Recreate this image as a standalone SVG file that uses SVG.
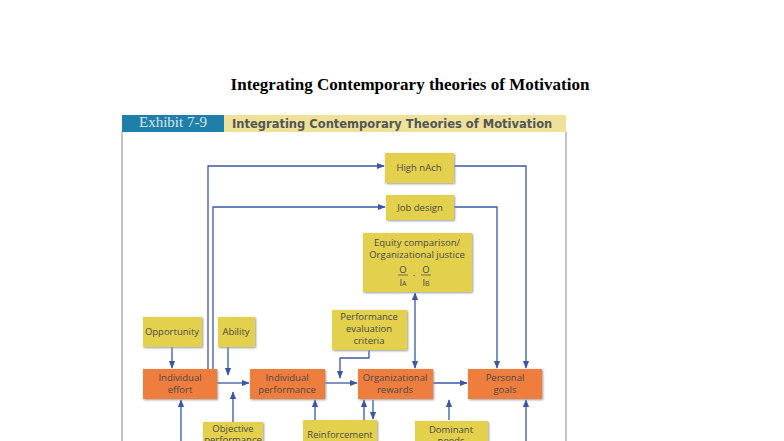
<svg xmlns="http://www.w3.org/2000/svg" width="784" height="441" viewBox="0 0 784 441">
<defs>
<marker id="a" viewBox="0 0 10 10" refX="9" refY="5" markerWidth="6" markerHeight="6" orient="auto-start-reverse"><path d="M0,1 L10,5 L0,9 z" fill="#3a56a6"/></marker>
</defs>
<style>
.y{fill:#e3d04c;filter:drop-shadow(1px 1px 1px #999)}
.o{fill:#ef7d3e;filter:drop-shadow(1px 1px 1px #999)}
.t{font-family:"Open Sans","DejaVu Sans",sans-serif;font-size:9.5px;text-anchor:middle;fill:#4a4a4a}
.c path{fill:none;stroke:#3a56a6;stroke-width:1.3}
</style>
<rect width="784" height="441" fill="#fff"/>
<text x="410" y="90" font-family="Liberation Serif,serif" font-weight="bold" font-size="17" text-anchor="middle">Integrating Contemporary theories of Motivation</text>
<path d="M122,132 V441 M566,132 V441" stroke="#888" stroke-width="1" fill="none"/>
<rect x="122" y="115" width="102" height="17" fill="#1f7fa9"/>
<text x="173" y="127" font-family="Liberation Serif,serif" font-size="15" fill="#d8e8f0" text-anchor="middle">Exhibit 7-9</text>
<rect x="224" y="115" width="342" height="17" fill="#eee29a"/>
<text x="232" y="127.5" font-family="DejaVu Sans,sans-serif" font-weight="bold" font-size="11.5" fill="#555">Integrating Contemporary Theories of Motivation</text>
<g class="c">
<path d="M208,369 V166 H384" marker-end="url(#a)"/>
<path d="M454,166 H526 V368" marker-end="url(#a)"/>
<path d="M213,369 V207 H385" marker-end="url(#a)"/>
<path d="M454,207 H497 V368" marker-end="url(#a)"/>
<path d="M415,293 V368" marker-start="url(#a)" marker-end="url(#a)"/>
<path d="M172,347 V368" marker-end="url(#a)"/>
<path d="M228,347 V375" marker-end="url(#a)"/>
<path d="M217,383 H249" marker-end="url(#a)"/>
<path d="M325,383 H357" marker-end="url(#a)"/>
<path d="M369,350 V358 H340 V378" marker-end="url(#a)"/>
<path d="M433,383 H467" marker-end="url(#a)"/>
<path d="M449,420 V400" marker-end="url(#a)"/>
<path d="M364,420 V400" marker-end="url(#a)"/>
<path d="M373,400 V419" marker-end="url(#a)"/>
<path d="M315,420 V400" marker-end="url(#a)"/>
<path d="M233,422 V392" marker-end="url(#a)"/>
<path d="M181,441 V400" marker-end="url(#a)"/>
<path d="M526,441 V400" marker-end="url(#a)"/>
</g>
<g id="highnach"><rect class="y" x="385" y="153" width="69" height="30"/><text class="t" x="419" y="171">High nAch</text></g>
<g id="jobdesign"><rect class="y" x="386" y="195" width="68" height="25"/><text class="t" x="420" y="211">Job design</text></g>
<g id="equity"><rect class="y" x="363" y="233" width="109" height="59"/><text class="t" x="417" y="246">Equity comparison/</text><text class="t" x="417" y="258">Organizational justice</text>
<text class="t" x="403" y="273">O</text><line x1="398" y1="275" x2="408" y2="275" stroke="#555" stroke-width="0.8"/><text class="t" x="403" y="286">I<tspan font-size="7">A</tspan></text>
<text class="t" x="414" y="279">·</text>
<text class="t" x="426" y="273">O</text><line x1="421" y1="275" x2="431" y2="275" stroke="#555" stroke-width="0.8"/><text class="t" x="426" y="286">I<tspan font-size="7">B</tspan></text></g>
<g id="opportunity"><rect class="y" x="143" y="317" width="59" height="30"/><text class="t" x="172" y="335">Opportunity</text></g>
<g id="ability"><rect class="y" x="218" y="317" width="37" height="30"/><text class="t" x="236" y="335">Ability</text></g>
<g id="perfeval"><rect class="y" x="332" y="310" width="75" height="40"/><text class="t" x="369" y="320">Performance</text><text class="t" x="369" y="332">evaluation</text><text class="t" x="369" y="344">criteria</text></g>
<g id="effort"><rect class="o" x="143" y="369" width="74" height="30"/><text class="t" x="180" y="381">Individual</text><text class="t" x="180" y="393">effort</text></g>
<g id="performance"><rect class="o" x="250" y="369" width="75" height="30"/><text class="t" x="287" y="381">Individual</text><text class="t" x="287" y="393">performance</text></g>
<g id="rewards"><rect class="o" x="358" y="369" width="75" height="30"/><text class="t" x="395" y="381">Organizational</text><text class="t" x="395" y="393">rewards</text></g>
<g id="goals"><rect class="o" x="468" y="369" width="74" height="30"/><text class="t" x="505" y="381">Personal</text><text class="t" x="505" y="393">goals</text></g>
<g id="objective"><rect class="y" x="203" y="422" width="60" height="30"/><text class="t" x="233" y="432">Objective</text><text class="t" x="233" y="443">performance</text></g>
<g id="reinforcement"><rect class="y" x="303" y="420" width="74" height="30"/><text class="t" x="340" y="438">Reinforcement</text></g>
<g id="dominant"><rect class="y" x="415" y="421" width="73" height="30"/><text class="t" x="451" y="433">Dominant</text><text class="t" x="451" y="444">needs</text></g>
</svg>
